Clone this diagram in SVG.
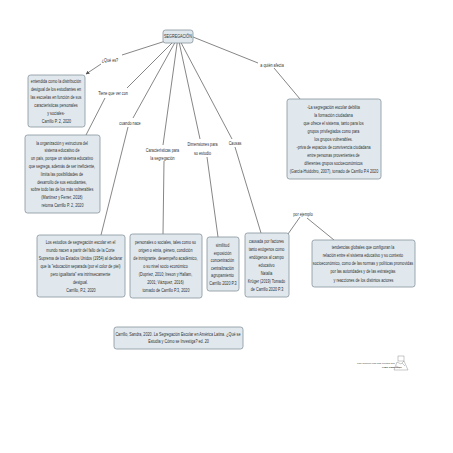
<svg xmlns="http://www.w3.org/2000/svg" width="453" height="453" viewBox="0 0 453 453">
<style>
.box{fill:#e0e8ed;stroke:#85929c;stroke-width:0.8}
.t{font-family:"Liberation Sans",Arial,sans-serif;font-size:5.5px;fill:#2e2e2e;text-anchor:middle}
.c{stroke:#5e5e5e;stroke-width:0.75;fill:none}
.s{font-family:"Liberation Sans",Arial,sans-serif;font-size:2.4px;fill:#444}
</style>
<defs>
<marker id="ah" viewBox="0 0 10 10" refX="9" refY="5" markerWidth="5" markerHeight="5" orient="auto" markerUnits="strokeWidth">
<path d="M0,0 L10,5 L0,10 z" fill="#555"/>
</marker>
</defs>
<rect width="453" height="453" fill="#ffffff"/>
<g id="connectors">
<line class="c" x1="178" y1="37" x2="122" y2="55"/>
<line class="c" x1="101" y1="64" x2="86" y2="74" marker-end="url(#ah)"/>
<line class="c" x1="178" y1="37" x2="127" y2="88"/>
<line class="c" x1="105" y1="98" x2="86" y2="135"/>
<line class="c" x1="178" y1="37" x2="133" y2="118"/>
<line class="c" x1="128" y1="127" x2="101" y2="235"/>
<line class="c" x1="178" y1="37" x2="163" y2="145"/>
<line class="c" x1="164" y1="161" x2="163" y2="234"/>
<line class="c" x1="178" y1="37" x2="200" y2="139"/>
<line class="c" x1="207" y1="157" x2="218" y2="237"/>
<line class="c" x1="178" y1="37" x2="232" y2="139"/>
<line class="c" x1="235" y1="147" x2="261" y2="233"/>
<line class="c" x1="193" y1="37" x2="258" y2="63"/>
<line class="c" x1="274" y1="68" x2="300" y2="99"/>
<line class="c" x1="288" y1="234" x2="300" y2="217"/>
<line class="c" x1="307" y1="218" x2="334" y2="240"/>
</g>
<g id="root">
<rect class="box" x="163" y="30" width="30" height="13" rx="2.5"/>
<text class="t" transform="translate(178,0) scale(0.68,1)"><tspan x="0" y="38.5">SEGREGACIÓN</tspan></text>
</g>
<g id="lbl-que-es"><text class="t" transform="translate(110,0) scale(0.68,1)"><tspan x="0" y="62">¿Qué es?</tspan></text></g>
<g id="lbl-tiene"><text class="t" transform="translate(113,0) scale(0.68,1)"><tspan x="0" y="94.9">Tiene que ver con</tspan></text></g>
<g id="lbl-nace"><text class="t" transform="translate(130,0) scale(0.68,1)"><tspan x="0" y="124.9">cuando nace</tspan></text></g>
<g id="lbl-caract"><text class="t" transform="translate(162.5,0) scale(0.68,1)"><tspan x="0" y="151.9">Características para</tspan><tspan x="0" y="160.2">la segregación</tspan></text></g>
<g id="lbl-dim"><text class="t" transform="translate(202.5,0) scale(0.68,1)"><tspan x="0" y="145.9">Dimensiones para</tspan><tspan x="0" y="154.6">su estudio</tspan></text></g>
<g id="lbl-causas"><text class="t" transform="translate(235,0) scale(0.68,1)"><tspan x="0" y="145.2">Causas</tspan></text></g>
<g id="lbl-afecta"><text class="t" transform="translate(272,0) scale(0.68,1)"><tspan x="0" y="66.9">a quién afecta</tspan></text></g>
<g id="lbl-ejemplo"><text class="t" transform="translate(303,0) scale(0.68,1)"><tspan x="0" y="215.9">por ejemplo</tspan></text></g>
<g id="n1">
<rect class="box" x="28" y="75" width="57" height="52" rx="2.5"/>
<text class="t" transform="translate(56.5,0) scale(0.68,1)">
<tspan x="0" y="83.2">entendida como la distribución</tspan>
<tspan x="0" y="91.1">desigual de los estudiantes en</tspan>
<tspan x="0" y="99">las escuelas en función de sus</tspan>
<tspan x="0" y="106.9">características personales</tspan>
<tspan x="0" y="114.8">y sociales-</tspan>
<tspan x="0" y="122.7">Carrillo P. 2, 2020</tspan>
</text>
</g>
<g id="n2">
<rect class="box" x="25" y="135" width="75" height="78" rx="2.5"/>
<text class="t" transform="translate(62.5,0) scale(0.68,1)">
<tspan x="0" y="144.7">la organización y estructura del</tspan>
<tspan x="0" y="152.5">sistema educativo de</tspan>
<tspan x="0" y="160.3">un país, porque un sistema educativo</tspan>
<tspan x="0" y="168.1">que segrega, además de ser ineficiente,</tspan>
<tspan x="0" y="175.9">limita las posibilidades de</tspan>
<tspan x="0" y="183.7">desarrollo de sus estudiantes,</tspan>
<tspan x="0" y="191.5">sobre todo las de los más vulnerables</tspan>
<tspan x="0" y="199.3">(Martínez y Ferrer, 2018)</tspan>
<tspan x="0" y="207.1">retoma Carrillo P. 2, 2020</tspan>
</text>
</g>
<g id="n4">
<rect class="box" x="37" y="235" width="88" height="62" rx="2.5"/>
<text class="t" transform="translate(81,0) scale(0.68,1)">
<tspan x="0" y="243.9">Los estudios de segregación escolar en el</tspan>
<tspan x="0" y="251.9">mundo nacen a partir del fallo de la Corte</tspan>
<tspan x="0" y="259.9">Suprema de los Estados Unidos (1954) al declarar</tspan>
<tspan x="0" y="267.9">que la "educación separada (por el color de piel)</tspan>
<tspan x="0" y="275.9">pero igualitaria" era intrínsecamente</tspan>
<tspan x="0" y="283.9">desigual.</tspan>
<tspan x="0" y="291.9">Carrillo, P.2, 2020</tspan>
</text>
</g>
<g id="n5">
<rect class="box" x="130" y="234" width="72" height="64" rx="2.5"/>
<text class="t" transform="translate(166,0) scale(0.68,1)">
<tspan x="0" y="243.9">personales o sociales, tales como su</tspan>
<tspan x="0" y="251.9">origen o etnia, género, condición</tspan>
<tspan x="0" y="259.9">de inmigrante, desempeño académico,</tspan>
<tspan x="0" y="267.9">o su nivel socio económico</tspan>
<tspan x="0" y="275.9">(Dupriez, 2010; Ireson y Hallam,</tspan>
<tspan x="0" y="283.9">2001; Vázquez, 2016)</tspan>
<tspan x="0" y="291.9">tomado de Carrillo P.3, 2020</tspan>
</text>
</g>
<g id="n6">
<rect class="box" x="207" y="237" width="32" height="54" rx="2.5"/>
<text class="t" transform="translate(223,0) scale(0.68,1)">
<tspan x="0" y="247.2">similitud</tspan>
<tspan x="0" y="254.7">exposición</tspan>
<tspan x="0" y="262.2">concentración</tspan>
<tspan x="0" y="269.7">centralización</tspan>
<tspan x="0" y="277.2">agrupamiento</tspan>
<tspan x="0" y="284.7">Carrillo 2020 P.3</tspan>
</text>
</g>
<g id="n7">
<rect class="box" x="245" y="233" width="44" height="64" rx="2.5"/>
<text class="t" transform="translate(267,0) scale(0.68,1)">
<tspan x="0" y="243.2">causada por factores</tspan>
<tspan x="0" y="251.1">tanto exógenos como</tspan>
<tspan x="0" y="259">endógenos al campo</tspan>
<tspan x="0" y="266.9">educativo</tspan>
<tspan x="0" y="274.8">Natalia</tspan>
<tspan x="0" y="282.7">Krüger (2019) Tomado</tspan>
<tspan x="0" y="290.6">de Carrillo 2020 P.3</tspan>
</text>
</g>
<g id="n8">
<rect class="box" x="287" y="99" width="94" height="80" rx="2.5"/>
<text class="t" transform="translate(334,0) scale(0.68,1)">
<tspan x="0" y="108.9">-La segregación escolar debilita</tspan>
<tspan x="0" y="116.9">la formación ciudadana</tspan>
<tspan x="0" y="124.9">que ofrece el sistema, tanto para los</tspan>
<tspan x="0" y="132.9">grupos privilegiados como para</tspan>
<tspan x="0" y="140.9">los grupos vulnerables.</tspan>
<tspan x="0" y="148.9">-priva de espacios de convivencia ciudadana</tspan>
<tspan x="0" y="156.9">entre personas provenientes de</tspan>
<tspan x="0" y="164.9">diferentes grupos socioeconómicos</tspan>
<tspan x="0" y="172.9">(García-Huidobro, 2007), tomado de Carrillo P.4 2020</tspan>
</text>
</g>
<g id="n9">
<rect class="box" x="312" y="240" width="103" height="47" rx="2.5"/>
<text class="t" transform="translate(363.5,0) scale(0.68,1)">
<tspan x="0" y="249.2">tendencias globales que configuran la</tspan>
<tspan x="0" y="257.3">relación entre el sistema educativo y su contexto</tspan>
<tspan x="0" y="265.4">socioeconómico, como de las normas y políticas promovidas</tspan>
<tspan x="0" y="273.5">por las autoridades y de las estrategias</tspan>
<tspan x="0" y="281.6">y reacciones de los distintos actores</tspan>
</text>
</g>
<g id="n10">
<rect class="box" x="114" y="327" width="129" height="22" rx="2.5"/>
<text class="t" transform="translate(178.5,0) scale(0.68,1)">
<tspan x="0" y="336.4">Carrillo, Sandra, 2020. La Segregación Escolar en América Latina. ¿Qué se</tspan>
<tspan x="0" y="343.4">Estudia y Cómo se Investiga? ed. 20</tspan>
</text>
</g>
<g id="logo">
<text class="s" x="357" y="364">This Concept Map was created with</text>
<text class="s" x="382" y="368" font-weight="bold">IHMC CmapTools</text>
<g fill="none" stroke="#777" stroke-width="0.4">
<rect x="398" y="356" width="6" height="5"/>
<path d="M394,370 L397,362 L401,364 L404,361 L408,370 Z"/>
<path d="M396,366 L400,368 M402,363 L405,366"/>
</g>
</g>
</svg>
